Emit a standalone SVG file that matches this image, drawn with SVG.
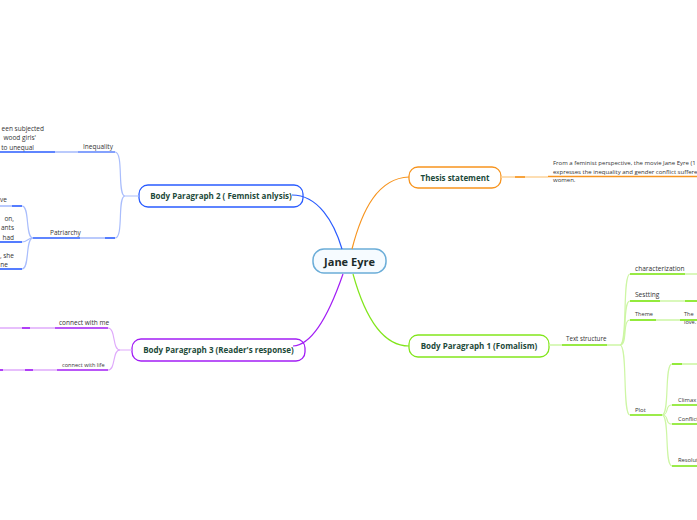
<svg xmlns="http://www.w3.org/2000/svg" width="697" height="520" viewBox="0 0 697 520">
<style>
.bg{fill:#ffffff}
.node{fill:#ffffff;stroke-width:1.3}
.nt{font-family:"Open Sans","DejaVu Sans",sans-serif;font-weight:bold;fill:#1d4a3a;text-anchor:middle}
.lt{font-family:"Open Sans","DejaVu Sans",sans-serif;fill:#333333}
.c{fill:none;stroke-width:1.2}
.u{fill:none;stroke-width:1.6}
.ob{stroke:#f7941e}.ol{stroke:#fcd39a}
.bb{stroke:#2a5cff}.bl{stroke:#a9bdfc}
.pb{stroke:#a21ef5}.pl{stroke:#dfaafb}
.gb{stroke:#82e61c}.gl{stroke:#cdf6a4}
</style>
<rect class="bg" x="0" y="0" width="697" height="520"/>

<g id="center">
<rect x="313" y="249" width="73" height="24" rx="11" fill="#f6fbff" stroke="#6badd8" stroke-width="1.5"/>
<text class="nt" x="349.5" y="265.5" font-size="11" fill="#1a1a1a" style="fill:#1c2b2a">Jane Eyre</text>
</g>
<g id="thesis">
<rect class="node" x="409" y="167" width="92" height="21" rx="9" stroke="#f7941e"/>
<text class="nt" x="455" y="180.5" font-size="8">Thesis statement</text>
</g>
<g id="bp2">
<rect class="node" x="139" y="185" width="164" height="22" rx="9" stroke="#2a5cff"/>
<text class="nt" x="221" y="199" font-size="8">Body Paragraph 2 ( Femnist anlysis)</text>
</g>
<g id="bp3">
<rect class="node" x="132" y="339" width="173" height="22" rx="9" stroke="#a21ef5"/>
<text class="nt" x="218.5" y="353" font-size="8">Body Paragraph 3 (Reader's response)</text>
</g>
<g id="bp1">
<rect class="node" x="409" y="335" width="140" height="22" rx="9" stroke="#82e61c"/>
<text class="nt" x="479" y="349" font-size="8">Body Paragraph 1 (Fomalism)</text>
</g>

<g id="thesis-text">
<text class="lt" x="553" y="165" font-size="6">From a feminist perspective, the movie Jane Eyre (1</text>
<text class="lt" x="553" y="173.5" font-size="6">expresses the inequality and gender conflict suffere</text>
<text class="lt" x="553" y="182" font-size="6">women.</text>
</g>
<g id="inequality">
<text class="lt" x="83" y="148.5" font-size="6.5">Inequality</text>
<text class="lt" x="44" y="131" font-size="6.5" text-anchor="end">een subjected</text>
<text class="lt" x="36" y="140" font-size="6.5" text-anchor="end">wood girls'</text>
<text class="lt" x="34" y="149.5" font-size="6.5" text-anchor="end">to unequal</text>
</g>
<g id="patriarchy">
<text class="lt" x="50" y="234.5" font-size="6.5">Patriarchy</text>
<text class="lt" x="7" y="202" font-size="6.5" text-anchor="end">ve</text>
<text class="lt" x="14" y="221" font-size="6.5" text-anchor="end">on,</text>
<text class="lt" x="14" y="230" font-size="6.5" text-anchor="end">ants</text>
<text class="lt" x="14" y="239.5" font-size="6.5" text-anchor="end">had</text>
<text class="lt" x="14" y="258" font-size="6.5" text-anchor="end">, she</text>
<text class="lt" x="8" y="266.5" font-size="6.5" text-anchor="end">ne</text>
</g>
<g id="connect-me">
<text class="lt" x="59" y="324.5" font-size="6.5">connect with me</text>
</g>
<g id="connect-life">
<text class="lt" x="62" y="366.5" font-size="5.6">connect with life</text>
</g>
<g id="text-structure">
<text class="lt" x="566" y="340.5" font-size="6.2">Text structure</text>
</g>
<g id="characterization">
<text class="lt" x="635" y="270.5" font-size="6.6">characterization</text>
</g>
<g id="setting">
<text class="lt" x="635" y="297" font-size="6.6">Sestting</text>
</g>
<g id="theme">
<text class="lt" x="635" y="315.5" font-size="5.6">Theme</text>
<text class="lt" x="684" y="315.5" font-size="5.6">The</text>
<text class="lt" x="684" y="323.5" font-size="5.6">love.</text>
</g>
<g id="plot">
<text class="lt" x="635" y="411.5" font-size="6">Plot</text>
</g>
<g id="climax"><text class="lt" x="678" y="401.5" font-size="5.8">Climax</text></g>
<g id="conflict"><text class="lt" x="678" y="420.5" font-size="5.8">Conflict</text></g>
<g id="resolution"><text class="lt" x="678" y="462" font-size="5.8">Resolution</text></g>

<g id="connectors">
<path class="c ob" d="M352,249 C362,210 378,178 409,177"/>
<path class="c bb" d="M292,195 C318,195 334,222 342,249"/>
<path class="c pb" d="M293,346 C316,345 334,300 343,274"/>
<path class="c gb" d="M353,274 C363,310 380,346 409,346"/>
<path class="u ol" d="M501,177 H548"/>
<path class="u ob" d="M515,177 H525"/>
<path class="u ob" d="M548,176.5 H697"/>
<path class="c bl" d="M139,196 H125 C117,196 124,152 115,152"/>
<path class="c bl" d="M125,196 C117,196 124,238 115,238"/>
<path class="u bb" d="M0,152 H55"/>
<path class="u bl" d="M55,152 H78"/>
<path class="u" stroke="#5b82fd" d="M78,152 H115"/>
<path class="u bb" d="M33,238 H80"/>
<path class="u bl" d="M80,238 H105"/>
<path class="u bb" d="M105,238 H115"/>
<path class="c bl" d="M33,238 C25,238 30,206 22,206"/>
<path class="c bl" d="M33,238 C27,238 28,242 22,242"/>
<path class="c bl" d="M33,238 C25,238 30,269 22,269"/>
<path class="u bl" d="M0,206 H12"/>
<path class="u bb" d="M12,206 H22"/>
<path class="u bb" d="M0,242 H22"/>
<path class="u bb" d="M0,269 H22"/>
<path class="c pl" d="M132,350 H120 C112,350 116,328 108,328"/>
<path class="c pl" d="M120,350 C112,350 116,370 108,370"/>
<path class="u pl" d="M0,328 H55"/>
<path class="u pb" d="M22,328 H30"/>
<path class="u pb" d="M55,328 H108"/>
<path class="u pl" d="M0,370 H57"/>
<path class="u pb" d="M0,370 H3"/>
<path class="u pb" d="M25,370 H33"/>
<path class="u pb" d="M57,370 H108"/>
<path class="u gl" d="M549,345 H620"/>
<path class="u gb" d="M562,345 H607"/>
<path class="c gl" d="M620,345 C628,345 622,274 630,274"/>
<path class="c gl" d="M620,345 C628,345 622,301 630,301"/>
<path class="c gl" d="M620,345 C628,345 622,320 630,320"/>
<path class="c gl" d="M620,345 C628,345 622,415 630,415"/>
<path class="u gl" d="M630,274 H697"/>
<path class="u gb" d="M630,274 H685"/>
<path class="u gl" d="M630,301 H697"/>
<path class="u gb" d="M630,301 H660"/>
<path class="u gb" d="M685,301 H697"/>
<path class="u gl" d="M630,320 H697"/>
<path class="u gb" d="M630,320 H656"/>
<path class="u gb" d="M680,320 H697"/>
<path class="u gb" d="M630,415 H662"/>
<path class="c gl" d="M662,415 C670,415 664,364 672,364"/>
<path class="c gl" d="M662,415 C670,415 664,405 672,405"/>
<path class="c gl" d="M662,415 C670,415 664,424 672,424"/>
<path class="c gl" d="M662,415 C670,415 664,466 672,466"/>
<path class="u gl" d="M672,364 H697"/>
<path class="u gb" d="M672,364 H682"/>
<path class="u gb" d="M672,405 H697"/>
<path class="u gb" d="M672,424 H697"/>
<path class="u gb" d="M672,466 H697"/>
</g>
</svg>
